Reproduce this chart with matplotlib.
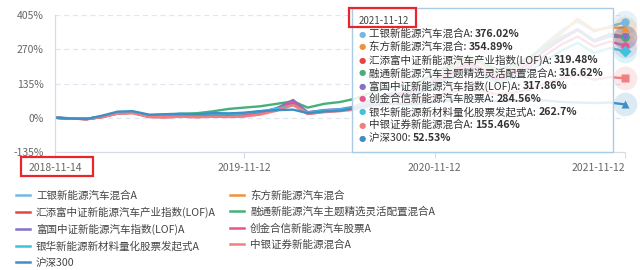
import matplotlib
matplotlib.use("Agg")
import matplotlib.pyplot as plt
import numpy as np
import pandas as pd
from matplotlib.lines import Line2D
from matplotlib.patches import Rectangle

plt.rcParams["font.family"] = ["Noto Sans CJK SC", "DejaVu Sans"]

# monthly snapshots of cumulative return (%)
dates = ["2018-11-14", "2018-12-14", "2019-01-14", "2019-02-14", "2019-03-14", "2019-04-12",
         "2019-05-14", "2019-06-14", "2019-07-12", "2019-08-14", "2019-09-12", "2019-10-14",
         "2019-11-12", "2019-12-12", "2020-01-14", "2020-02-14", "2020-03-13", "2020-04-14",
         "2020-05-14", "2020-06-12", "2020-07-14", "2020-08-14", "2020-09-14", "2020-10-14",
         "2020-11-12", "2020-12-14", "2021-01-14", "2021-02-10", "2021-03-12", "2021-04-14",
         "2021-05-14", "2021-06-11", "2021-07-14", "2021-08-13", "2021-09-14", "2021-10-14",
         "2021-11-12"]

names = ["工银新能源汽车混合A", "东方新能源汽车混合", "汇添富中证新能源汽车产业指数(LOF)A",
         "融通新能源汽车主题精选灵活配置混合A", "富国中证新能源汽车指数(LOF)A", "创金合信新能源汽车股票A",
         "银华新能源新材料量化股票发起式A", "中银证券新能源混合A", "沪深300"]

gongyin = [0, -2, -4, 6, 20, 22, 8, 6, 9, 7, 12, 10, 12, 20, 38, 62, 20, 30, 34,
           45, 75, 95, 100, 115, 155, 200, 240, 215, 180, 200, 235, 290, 345, 380, 340, 360, 376.02]
dongfang = [0, -3, -5, 4, 18, 20, 5, 5, 7, 5, 8, 7, 9, 18, 35, 58, 18, 27, 30,
            42, 72, 92, 96, 110, 150, 195, 235, 210, 175, 195, 230, 285, 335, 390, 345, 355, 354.89]
huitianfu = [0, -3, -6, 3, 17, 19, 3, 2, 4, 3, 5, 4, 6, 15, 32, 55, 15, 24, 28,
             40, 68, 88, 92, 105, 140, 180, 215, 190, 160, 180, 215, 265, 310, 345, 305, 330, 319.48]
rongtong = [0, -2, -4, 5, 18, 20, 8, 10, 15, 18, 25, 35, 40, 45, 55, 65, 40, 55, 62,
            75, 100, 120, 125, 140, 175, 210, 240, 220, 190, 210, 240, 280, 320, 345, 300, 320, 316.62]
fuguo = [0, -3, -5, 4, 18, 21, 5, 4, 6, 5, 8, 6, 9, 18, 38, 70, 22, 30, 33,
         42, 70, 90, 95, 108, 145, 185, 220, 195, 165, 185, 215, 268, 312, 350, 305, 328, 317.86]
chuangjin = [0, -3, -5, 4, 17, 20, 4, 3, 5, 4, 6, 5, 8, 17, 35, 62, 18, 26, 30,
             40, 66, 85, 90, 102, 135, 170, 205, 180, 150, 170, 200, 245, 290, 320, 280, 300, 284.56]
yinhua = [0, -2, -4, 6, 21, 23, 10, 12, 15, 12, 18, 16, 18, 25, 35, 50, 20, 28, 32,
          40, 62, 80, 85, 98, 128, 160, 190, 170, 140, 158, 185, 225, 265, 295, 255, 275, 262.7]
zhongyin = [0, -3, -5, 3, 16, 18, 3, 2, 4, 2, 4, 3, 5, 12, 28, 50, 15, 22, 26,
            32, 45, 55, 58, 65, 82, 100, 115, 105, 92, 100, 112, 135, 155, 170, 150, 160, 155.46]
hs300 = [0, -3, -5, 9, 24, 26, 12, 14, 16, 14, 18, 17, 20, 26, 30, 32, 18, 25, 28,
         38, 52, 55, 52, 55, 62, 70, 78, 72, 65, 68, 70, 68, 62, 60, 58, 60, 52.53]

series = [gongyin, dongfang, huitianfu, rongtong, fuguo, chuangjin, yinhua, zhongyin, hs300]
colors = ["#73b9e5", "#f0913c", "#e64545", "#45b07a", "#8470c8", "#e8558e", "#3cc3e0", "#f08080", "#3d8fc6"]
markers = ["o", "^", "o", "o", "v", "o", "D", "s", "^"]

tooltip_date = "2021-11-12"
tooltip_vals = ["376.02%", "354.89%", "319.48%", "316.62%", "317.86%", "284.56%", "262.7%", "155.46%", "52.53%"]
xticks = ["2018-11-14", "2019-11-12", "2020-11-12", "2021-11-12"]
yticks = [-135, 0, 135, 270, 405]

x = pd.to_datetime(dates)

fig = plt.figure(figsize=(6.4, 2.7), dpi=100)
ax = fig.add_axes([55 / 640, 1 - 152 / 270, 570 / 640, 137 / 270])

for vals, c in zip(series, colors):
    ax.plot(x, vals, color=c, lw=1.7, solid_joinstyle="round")

# end-of-line markers with halo
for vals, c, m in zip(series, colors, markers):
    ax.plot(x[-1], vals[-1], marker="o", ms=17, color=c, alpha=0.18, mec="none", clip_on=False, zorder=6)
    ax.plot(x[-1], vals[-1], marker=m, ms=6, color=c, mec="none", clip_on=False, zorder=7)

ax.set_ylim(-135, 405)
ax.set_yticks(yticks)
ax.set_yticklabels([f"{v}%" for v in yticks])
ax.set_xlim(x[0], x[-1])
xt = pd.to_datetime(xticks)
ax.set_xticks(xt)
ax.set_xticklabels(xticks)
ax.get_xticklabels()[-1].set_horizontalalignment("right")

for v in yticks[1:]:
    ax.axhline(v, color="#e0e6f1", lw=0.9, ls=(0, (4, 3)), zorder=0)
for s in ["top", "right"]:
    ax.spines[s].set_visible(False)
for s in ["left", "bottom"]:
    ax.spines[s].set_color("#d5dbe8")
    ax.spines[s].set_linewidth(0.9)
ax.tick_params(axis="y", length=0, labelsize=7.5, labelcolor="#666666", pad=8)
ax.tick_params(axis="x", length=4, color="#d5dbe8", labelsize=7.5, labelcolor="#666666", pad=4)

# tooltip
tf = fig.transFigure
fig.patches.append(Rectangle((352 / 640, 1 - 152 / 270), 261 / 640, 144 / 270, transform=tf,
                             facecolor="white", alpha=0.86, edgecolor="none", zorder=8))
fig.patches.append(Rectangle((352 / 640, 1 - 152 / 270), 261 / 640, 144 / 270, transform=tf,
                             facecolor="none", edgecolor="#a9cbe6", lw=1.0, zorder=9))
fig.text(359 / 640, 1 - 21 / 270, tooltip_date, fontsize=7, color="#444444", va="center", zorder=10)
fig.canvas.draw()
for i, (n, v, c) in enumerate(zip(names, tooltip_vals, colors)):
    yy = 1 - (34 + 13 * i) / 270
    fig.text(362 / 640, yy, "●", fontsize=6, color=c, va="center", ha="center", family="DejaVu Sans", zorder=10)
    t = fig.text(369 / 640, yy, n + ": ", fontsize=7.6, color="#333333", va="center", zorder=10)
    bb = t.get_window_extent(renderer=fig.canvas.get_renderer())
    fig.text(bb.x1 / 640, yy, v, fontsize=7.6, color="#333333", fontweight="bold", va="center", zorder=10)

# red highlight boxes
fig.patches.append(Rectangle((349 / 640, 1 - 27 / 270), 67 / 640, 19 / 270, transform=tf,
                             facecolor="none", edgecolor="#e8262b", lw=1.6, zorder=11))
fig.patches.append(Rectangle((21 / 640, 1 - 176 / 270), 72 / 640, 19 / 270, transform=tf,
                             facecolor="none", edgecolor="#e8262b", lw=1.6, zorder=11))

# legend: two columns placed separately
left = [0, 2, 4, 6, 8]
right = [1, 3, 5, 7]
for idx, x0 in [(left, 16), (right, 230)]:
    handles = [Line2D([], [], color=colors[i], lw=1.8) for i in idx]
    fig.legend(handles, [names[i] for i in idx], loc="upper left",
               bbox_to_anchor=(x0 / 640, 1 - 190 / 270), frameon=False, fontsize=7.6,
               handlelength=1.3, handletextpad=0.6, labelspacing=0.58,
               labelcolor="#444444", borderaxespad=0, borderpad=0)

fig.savefig("out.png", dpi=100)
